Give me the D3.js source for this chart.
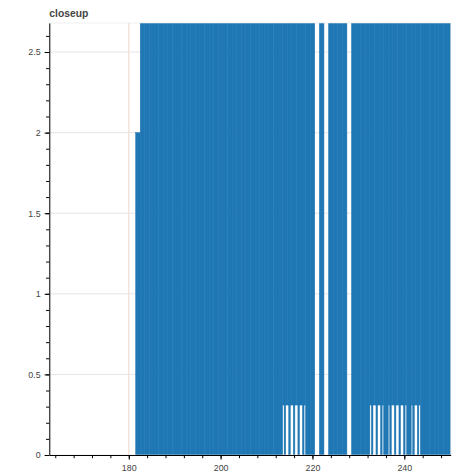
<!DOCTYPE html>
<html>
<head>
<meta charset="utf-8">
<script src="https://cdn.jsdelivr.net/npm/d3@7"></script>
<style>
  body { margin: 0; background: #fff; }
  text { font-family: "Liberation Sans", Arial, sans-serif; }
</style>
</head>
<body>
<div id="chart"></div>
<script>
// bar positions (integer bins) and their heights; the tall ones run off the top
const binX = [182, 183, 184, 185, 186, 187, 188, 189, 190, 191, 192, 193, 194, 195, 196, 197,
  198, 199, 200, 201, 202, 203, 204, 205, 206, 207, 208, 209, 210, 211, 212, 213, 214, 215,
  216, 217, 218, 219, 220, 222, 224, 225, 226, 227, 229, 230, 231, 232, 233, 234, 235, 236,
  237, 238, 239, 240, 241, 242, 243, 244, 245, 246, 247, 248, 249, 250];
const binCount = [2, 3, 3, 3, 3, 3, 3, 3, 3, 3, 3, 3, 3, 3, 3, 3,
  3, 3, 3, 3, 3, 3, 3, 3, 3, 3, 3, 3, 3, 3, 3, 3, 3, 3,
  3, 3, 3, 3, 3, 3, 3, 3, 3, 3, 3, 3, 3, 3, 3, 3, 3, 3,
  3, 3, 3, 3, 3, 3, 3, 3, 3, 3, 3, 3, 3, 3];
// bins where the bar sits on a thin low stub
const lowX = [214, 215, 216, 217, 218, 233, 234, 235, 237, 238, 239, 240, 242, 243];
const lowTop = 0.31;

const xDomain = [162.7, 250.1];
const yDomain = [0, 2.68];
const xTicks = [180, 200, 220, 240];
const yTicks = [0, 0.5, 1, 1.5, 2, 2.5];
const spanX = 180;

const width = 474;
const height = 474;
const marginTop = 23;
const marginRight = 23.3;
const marginBottom = 19;
const marginLeft = 49.3;

const svg = d3.select("#chart")
  .append("svg")
  .attr("width", width)
  .attr("height", height)
  .attr("viewBox", [0, 0, width, height]);

const x = d3.scaleLinear(xDomain, [marginLeft, width - marginRight]);
const y = d3.scaleLinear(yDomain, [height - marginBottom, marginTop]);

svg.append("defs").append("clipPath")
  .attr("id", "frame")
  .append("rect")
  .attr("x", marginLeft)
  .attr("y", marginTop)
  .attr("width", width - marginLeft - marginRight)
  .attr("height", height - marginTop - marginBottom);

// grid
const grid = svg.append("g").attr("stroke", "#e5e5e5").attr("stroke-width", 1);
grid.selectAll(".gy")
  .data(yTicks.filter(d => d > 0))
  .join("line")
  .attr("x1", marginLeft).attr("x2", width - marginRight)
  .attr("y1", d => y(d)).attr("y2", d => y(d));
grid.selectAll(".gx")
  .data(xTicks)
  .join("line")
  .attr("x1", d => x(d)).attr("x2", d => x(d))
  .attr("y1", marginTop).attr("y2", height - marginBottom);

svg.append("line")
  .attr("x1", x(spanX)).attr("x2", x(spanX))
  .attr("y1", marginTop).attr("y2", height - marginBottom)
  .attr("stroke", "#f7e0d2")
  .attr("stroke-width", 1);

// bars
const bars = svg.append("g")
  .attr("clip-path", "url(#frame)")
  .attr("fill", "#1f77b4")
  .attr("stroke", "#1f77b4")
  .attr("stroke-width", 0.5);
const data = binX.map((d, i) => ({ x: d, top: binCount[i], low: lowX.includes(d) }));

bars.selectAll(".bar")
  .data(data)
  .join("rect")
  .attr("x", d => x(d.x - 0.5))
  .attr("width", x(1) - x(0))
  .attr("y", d => y(d.top))
  .attr("height", d => y(d.low ? lowTop : 0) - y(d.top));

bars.selectAll(".stub")
  .data(lowX)
  .join("rect")
  .attr("x", d => x(d - 0.17))
  .attr("width", x(0.34) - x(0))
  .attr("y", y(lowTop))
  .attr("height", y(0) - y(lowTop));

// outline
svg.append("rect")
  .attr("x", marginLeft).attr("y", marginTop)
  .attr("width", width - marginLeft - marginRight)
  .attr("height", height - marginTop - marginBottom)
  .attr("fill", "none")
  .attr("stroke", "#e5e5e5")
  .attr("stroke-opacity", 0.6);

// axes
const styleAxis = g => {
  g.select(".domain").attr("stroke", "#000");
  g.selectAll(".tick line").attr("stroke", "#000");
  g.selectAll(".tick text").attr("fill", "#444").attr("font-size", 8.9);
};

svg.append("g")
  .attr("transform", `translate(0,${height - marginBottom})`)
  .call(d3.axisBottom(x).tickValues(d3.range(164, 251, 4)).tickSize(3.2).tickFormat(""))
  .call(g => g.select(".domain").remove())
  .call(styleAxis);

svg.append("g")
  .attr("transform", `translate(0,${height - marginBottom})`)
  .call(d3.axisBottom(x).tickValues(xTicks).tickSizeInner(4.7).tickSizeOuter(0).tickPadding(4.5))
  .call(styleAxis);

svg.append("g")
  .attr("transform", `translate(${marginLeft},0)`)
  .call(d3.axisLeft(y).ticks(27).tickSize(3.2).tickFormat(""))
  .call(g => g.select(".domain").remove())
  .call(styleAxis);

svg.append("g")
  .attr("transform", `translate(${marginLeft},0)`)
  .call(d3.axisLeft(y).tickValues(yTicks).tickFormat(d => String(d)).tickSizeInner(4.7).tickSizeOuter(0).tickPadding(4))
  .call(styleAxis);

svg.append("text")
  .attr("x", marginLeft)
  .attr("y", 16.5)
  .attr("fill", "#444")
  .attr("font-size", 10.3)
  .attr("font-weight", "bold")
  .text("closeup");
</script>
</body>
</html>
